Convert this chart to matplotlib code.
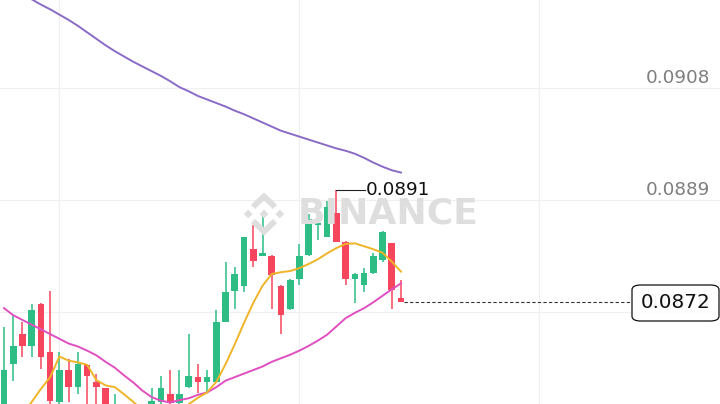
import numpy as np
import matplotlib
matplotlib.use("Agg")
import matplotlib.pyplot as plt
from matplotlib.transforms import blended_transform_factory
from matplotlib.patches import FancyBboxPatch, Polygon

# ---------------- data ----------------
opens = [0.08530, 0.08611, 0.08662, 0.08642, 0.08713, 0.08632, 0.08547, 0.08601, 0.08572, 0.08610,
         0.08581, 0.08571, 0.08510, 0.08540, 0.08505, 0.08495, 0.08525, 0.08547, 0.08560, 0.08545,
         0.08572, 0.08590, 0.08581, 0.08581, 0.08683, 0.08735, 0.08744, 0.08806, 0.08795, 0.08795,
         0.08744, 0.08704, 0.08756, 0.08796, 0.08847, 0.08827, 0.08867, 0.08819, 0.08755, 0.08745,
         0.08765, 0.08788, 0.08816, 0.08724]
highs = [0.08674, 0.08693, 0.08683, 0.08713, 0.08714, 0.08735, 0.08632, 0.08620, 0.08632, 0.08611,
         0.08594, 0.08571, 0.08560, 0.08542, 0.08530, 0.08538, 0.08571, 0.08591, 0.08601, 0.08601,
         0.08662, 0.08611, 0.08601, 0.08703, 0.08785, 0.08775, 0.08827, 0.08847, 0.08867, 0.08796,
         0.08745, 0.08755, 0.08815, 0.08866, 0.08858, 0.08887, 0.08907, 0.08820, 0.08765, 0.08774,
         0.08800, 0.08837, 0.08817, 0.08754]
lows = [0.08516, 0.08582, 0.08623, 0.08623, 0.08603, 0.08533, 0.08537, 0.08547, 0.08560, 0.08533,
        0.08533, 0.08515, 0.08500, 0.08490, 0.08480, 0.08485, 0.08515, 0.08535, 0.08530, 0.08535,
        0.08570, 0.08562, 0.08562, 0.08580, 0.08682, 0.08704, 0.08734, 0.08775, 0.08795, 0.08705,
        0.08663, 0.08703, 0.08745, 0.08795, 0.08822, 0.08826, 0.08818, 0.08745, 0.08714, 0.08734,
        0.08764, 0.08785, 0.08705, 0.08716]
closes = [0.08601, 0.08642, 0.08642, 0.08703, 0.08623, 0.08549, 0.08601, 0.08572, 0.08611, 0.08591,
          0.08572, 0.08525, 0.08540, 0.08505, 0.08495, 0.08520, 0.08549, 0.08570, 0.08545, 0.08560,
          0.08591, 0.08581, 0.08590, 0.08683, 0.08734, 0.08764, 0.08826, 0.08786, 0.08799, 0.08762,
          0.08694, 0.08754, 0.08795, 0.08857, 0.08850, 0.08877, 0.08819, 0.08756, 0.08764, 0.08765,
          0.08795, 0.08836, 0.08737, 0.08716]

ma7 = [0.08486, 0.08506, 0.08526, 0.08547, 0.08569, 0.08589, 0.08624, 0.08617, 0.08614, 0.08610,
       0.08584, 0.08575, 0.08572, 0.08560, 0.08547, 0.08533, 0.08520, 0.08516, 0.08520, 0.08530,
       0.08543, 0.08554, 0.08563, 0.08581, 0.08611, 0.08645, 0.08681, 0.08715, 0.08744, 0.08764,
       0.08767, 0.08769, 0.08774, 0.08781, 0.08789, 0.08799, 0.08808, 0.08815, 0.08816, 0.08811,
       0.08806, 0.08800, 0.08785, 0.08768]
ma25 = [0.08706, 0.08694, 0.08686, 0.08678, 0.08670, 0.08662, 0.08654, 0.08646, 0.08641, 0.08634,
        0.08626, 0.08615, 0.08605, 0.08592, 0.08580, 0.08566, 0.08555, 0.08549, 0.08546, 0.08550,
        0.08553, 0.08559, 0.08563, 0.08572, 0.08583, 0.08589, 0.08595, 0.08601, 0.08607, 0.08615,
        0.08621, 0.08627, 0.08634, 0.08642, 0.08651, 0.08661, 0.08675, 0.08689, 0.08698, 0.08706,
        0.08716, 0.08727, 0.08738, 0.08748]
ma99 = [0.09256, 0.09247, 0.09239, 0.09230, 0.09221, 0.09213, 0.09204, 0.09195, 0.09185, 0.09174,
        0.09163, 0.09152, 0.09142, 0.09133, 0.09124, 0.09116, 0.09108, 0.09100, 0.09091, 0.09081,
        0.09074, 0.09066, 0.09060, 0.09054, 0.09048, 0.09041, 0.09035, 0.09028, 0.09021, 0.09014,
        0.09007, 0.09002, 0.08997, 0.08992, 0.08987, 0.08982, 0.08977, 0.08973, 0.08968, 0.08961,
        0.08953, 0.08946, 0.08940, 0.08936]

price_ticks = [0.0908, 0.0889, 0.0870]
grid_candles = [6, 32, 58]
watermark_text = "BINANCE"

# ---------------- style ----------------
UP = "#2EBD85"
DOWN = "#F6465D"
C_MA7 = "#F0B429"
C_MA25 = "#E04FC0"
C_MA99 = "#8A6BC6"
GRID = "#F0F0F0"
AXIS_TXT = "#7F7F7F"
WM = "#DEDEDE"

W, H = 720, 404
fig = plt.figure(figsize=(W / 100, H / 100), dpi=100)
ax = fig.add_axes([0, 0, 1, 1])
ax.set_xlim(-0.433, 77.55)
ax.set_ylim(0.085434, 0.092288)
ax.axis("off")
fig.patch.set_facecolor("white")


def px(x, y):
    return (x / W, 1 - y / H)


# watermark (behind everything)
fig.text(px(388, 214)[0], px(388, 214)[1], watermark_text, color=WM, fontsize=26,
         fontweight="bold", ha="center", va="center", family="DejaVu Sans", zorder=0)
cx, cy, s = 264, 214, 22
for (dx, dy) in [(0, 0), (-0.72, 0), (0.72, 0)]:
    r = 0.2
    pts = [px(cx + (dx) * s, cy + (dy - r) * s), px(cx + (dx + r) * s, cy + dy * s),
           px(cx + dx * s, cy + (dy + r) * s), px(cx + (dx - r) * s, cy + dy * s)]
    fig.patches.append(Polygon(pts, closed=True, transform=fig.transFigure,
                               facecolor=WM, edgecolor="none", zorder=0))
for sgn in (-1, 1):
    xs = [cx - 0.5 * s, cx, cx + 0.5 * s]
    ys = [cy + sgn * 0.32 * s, cy + sgn * 0.8 * s, cy + sgn * 0.32 * s]
    pts = [px(a, b) for a, b in zip(xs, ys)]
    fig.lines.append(plt.Line2D([p[0] for p in pts], [p[1] for p in pts],
                                transform=fig.transFigure, color=WM, lw=4.2,
                                solid_joinstyle="miter", solid_capstyle="butt", zorder=0))

# grid
for t in price_ticks:
    ax.axhline(t, color=GRID, lw=0.9, zorder=1)
for g in grid_candles:
    ax.axvline(g, color=GRID, lw=0.9, zorder=1)

# candles
o = np.array(opens); h = np.array(highs); l = np.array(lows); c = np.array(closes)
x = np.arange(len(o))
cols = [UP if cc >= oo else DOWN for oo, cc in zip(o, c)]
ax.vlines(x, l, h, colors=cols, lw=1.1, zorder=3)
bottoms = np.minimum(o, c)
heights = np.maximum(np.abs(c - o), 0.000015)
ax.bar(x, heights, bottom=bottoms, width=0.72, color=cols, edgecolor="none", zorder=3)

# moving averages
ax.plot(x, ma99, color=C_MA99, lw=1.4, zorder=4)
ax.plot(x, ma25, color=C_MA25, lw=1.4, zorder=4)
ax.plot(x, ma7, color=C_MA7, lw=1.4, zorder=4)

# price labels on the right
bt = blended_transform_factory(ax.transAxes, ax.transData)
for t in price_ticks:
    ax.annotate(f"{t:.4f}", xy=(710 / W, t), xycoords=bt, xytext=(0, 3.4),
                textcoords="offset points", ha="right", va="baseline",
                color=AXIS_TXT, fontsize=13.2, zorder=2)

# highest-price marker
imax = int(np.argmax(h))
ax.plot([imax, imax + 3.1], [h[imax], h[imax]], color="#222222", lw=0.8, zorder=5)
ax.text(imax + 3.2, h[imax], f"{h[imax]:.4f}", ha="left", va="center",
        color="#111111", fontsize=13.2, zorder=5)

# current price line and box
last = c[-1]
ax.plot([x[-1] + 0.35, 68.0], [last, last], color="#333333", lw=0.8,
        linestyle=(0, (3, 2)), zorder=5)
bx0, by0 = px(632, 321)
bx1, by1 = px(719, 285)
box = FancyBboxPatch((bx0, by0), bx1 - bx0, by1 - by0,
                     boxstyle="round,pad=0,rounding_size=0.012",
                     transform=fig.transFigure, facecolor=(1, 1, 1, 0.93),
                     edgecolor="#111111", lw=0.9, zorder=6)
fig.patches.append(box)
fig.text((bx0 + bx1) / 2, (by0 + by1) / 2, f"{last:.4f}", ha="center", va="center",
         color="#111111", fontsize=14.3, zorder=7)

fig.savefig("out.png", dpi=100, facecolor="white")
